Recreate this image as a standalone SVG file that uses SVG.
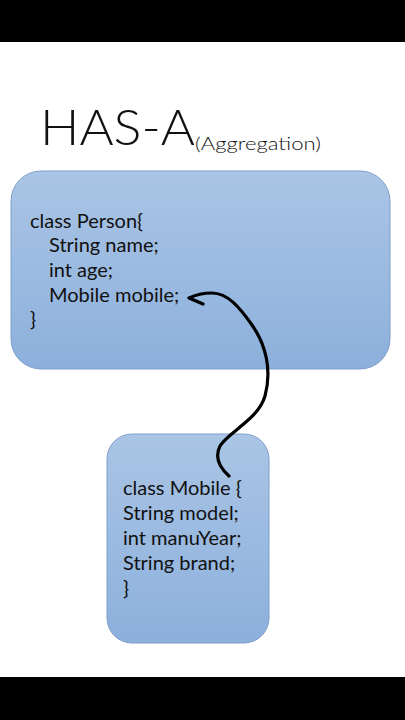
<svg xmlns="http://www.w3.org/2000/svg" width="405" height="720" viewBox="0 0 405 720">
<defs>
<linearGradient id="blue" x1="0" y1="0" x2="0" y2="1">
<stop offset="0" stop-color="#aac5e5"/>
<stop offset="1" stop-color="#8cb0dc"/>
</linearGradient>
<style>
.box{fill:url(#blue);stroke:#7f9fca;stroke-width:1}
.code{font-family:Lato,"Open Sans",sans-serif;font-size:20px;fill:#111}
.title{font-family:Lato,"Open Sans",sans-serif;font-weight:300;fill:#111}
.arrow{fill:none;stroke:#000;stroke-width:3.2;stroke-linecap:round;stroke-linejoin:round}
</style>
</defs>
<rect x="0" y="0" width="405" height="720" fill="#fff"/>
<rect x="0" y="0" width="405" height="42" fill="#000"/>
<rect x="0" y="677" width="405" height="43" fill="#000"/>
<g id="title">
<text class="title" x="40" y="145" font-size="49" textLength="155" lengthAdjust="spacingAndGlyphs">HAS-A</text>
<text class="title" x="195" y="150" font-size="18" font-weight="400" textLength="126" lengthAdjust="spacingAndGlyphs">(Aggregation)</text>
</g>
<g id="person">
<rect class="box" x="11" y="171" width="379" height="198" rx="30" ry="30"/>
<text class="code" x="30" y="228">class Person{</text>
<text class="code" x="49" y="252">String name;</text>
<text class="code" x="49" y="277">int age;</text>
<text class="code" x="49" y="302">Mobile mobile;</text>
<text class="code" x="30" y="326">}</text>
</g>
<g id="mobile">
<rect class="box" x="107" y="434" width="162" height="209" rx="25" ry="25"/>
<text class="code" x="123" y="495">class Mobile {</text>
<text class="code" x="123" y="520">String model;</text>
<text class="code" x="123" y="545">int manuYear;</text>
<text class="code" x="123" y="570">String brand;</text>
<text class="code" x="123" y="595">}</text>
</g>
<g id="connectors">
<path class="arrow" d="M 229 476 C 220 468, 214 458, 220 446 C 228 432, 258 420, 265 396 C 272 370, 266 345, 252 325 C 240 308, 228 293, 212 293 C 203 293, 195 295, 189 298 L 203 304"/>
</g>
</svg>
